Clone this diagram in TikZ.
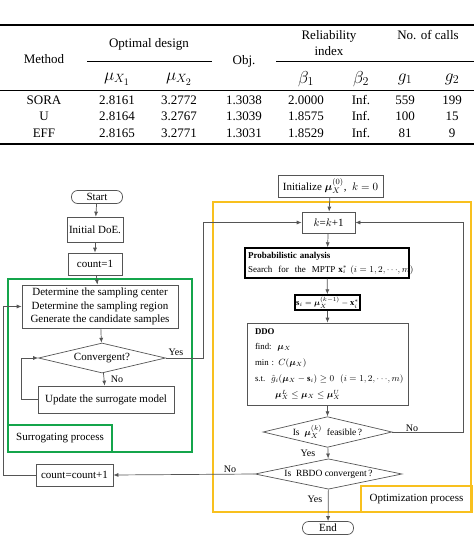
\documentclass[tikz,border=0pt]{standalone}
\usepackage{amsmath, amssymb}
\usepackage{bm}
\usepackage{fontspec}
\setmainfont{Liberation Serif}
\usetikzlibrary{shapes.geometric,arrows.meta,calc,positioning}
\definecolor{linegray}{RGB}{85,85,85}
\definecolor{surgreen}{RGB}{20,165,75}
\definecolor{optgold}{RGB}{248,192,30}
\tikzset{
  tab/.style={font=\fontsize{13}{16}\selectfont, inner sep=0pt},
  tabmath/.style={font=\fontsize{17.28}{19}\selectfont, inner sep=0pt},
  box/.style={draw=linegray, line width=0.7pt, inner sep=2pt, fill=white},
  boldbox/.style={draw=black, line width=1.4pt, inner sep=2pt, fill=white},
  term/.style={draw=linegray, line width=0.7pt, rounded corners=6pt, minimum width=51pt, minimum height=13pt, inner sep=0pt},
  dec/.style={draw=linegray, line width=0.7pt, diamond, aspect=4, inner sep=0pt, font=\fontsize{9.5}{11}\selectfont},
  arr/.style={-{Latex[length=5pt,width=4pt]}, draw=linegray, line width=0.7pt},
  lbl/.style={font=\fontsize{10}{12}\selectfont, inner sep=0pt},
  greenframe/.style={draw=surgreen, line width=1.6pt},
  goldframe/.style={draw=optgold, line width=1.6pt}
}
\begin{document}
\begin{tikzpicture}[x=1pt,y=-1pt, every node/.style={font=\fontsize{11}{13.5}\selectfont}]
  \useasboundingbox (0,0) rectangle (474,535);
  % Table rules
  \draw[line width=1.6pt] (0,25) -- (474,25);
  \draw[line width=0.8pt] (87,61) -- (212,61);
  \draw[line width=0.8pt] (276,61) -- (474,61);
  \draw[line width=0.9pt] (0,90.5) -- (474,90.5);
  \draw[line width=1.8pt] (0,144) -- (474,144);
  % Table head
  \node[tab] (hmeth) at (44,59) {Method};
  \node[tab] (hopt) at (149,44) {Optimal design};
  \node[tab] (hobj) at (244,61) {Obj.};
  \node[tab, align=center] (hrel) at (329,43.5) {Reliability\\index};
  \node[tab] (hcall) at (428,35) {No. of calls};
  \node[tabmath] (hmu1) at (117,79) {$\mu_{X_1}$};
  \node[tabmath] (hmu2) at (179,79) {$\mu_{X_2}$};
  \node[tabmath] (hb1) at (306,79) {$\beta_1$};
  \node[tabmath] (hb2) at (361,79) {$\beta_2$};
  \node[tabmath] (hg1) at (405,79) {$g_1$};
  \node[tabmath] (hg2) at (452,79) {$g_2$};
  % Table rows
  \foreach \meth/\ma/\mb/\ob/\ba/\bb/\ga/\gb/\y in {SORA/2.8161/3.2772/1.3038/2.0000/Inf./559/199/100,
      U/2.8164/3.2767/1.3039/1.8575/Inf./100/15/116.5,
      EFF/2.8165/3.2771/1.3031/1.8529/Inf./81/9/133}{
    \node[tab] (r\meth-m) at (44,\y) {\meth};
    \node[tab] (r\meth-a) at (117,\y) {\ma};
    \node[tab] (r\meth-b) at (179,\y) {\mb};
    \node[tab] (r\meth-o) at (244,\y) {\ob};
    \node[tab] (r\meth-ba) at (306,\y) {\ba};
    \node[tab] (r\meth-bb) at (361,\y) {\bb};
    \node[tab] (r\meth-ga) at (405,\y) {\ga};
    \node[tab] (r\meth-gb) at (452,\y) {\gb};
  }
  % Process frames
  \draw[greenframe] (8,279) rectangle (192,452);
  \draw[goldframe] (213,202) rectangle (471,512);
  \node[draw=surgreen, line width=1.6pt, minimum width=104pt, minimum height=27pt, inner sep=0pt] (surlab) at (60,438.5) {Surrogating process};
  \node[draw=optgold, line width=1.6pt, minimum width=111pt, minimum height=26pt, inner sep=0pt] (optlab) at (416.5,499) {Optimization process};
  % Surrogating side
  \node[term] (start) at (97,197) {Start};
  \node[box, minimum width=54pt, minimum height=25pt] (doe) at (95,229.5) {Initial DoE.};
  \node[box, minimum width=54pt, minimum height=22pt] (cnt) at (95,264) {count=1};
  \node[box, minimum width=156pt, minimum height=43pt, align=center] (det) at (100,306.5) {Determine the sampling center\\Determine the sampling region\\Generate the candidate samples};
  \node[dec, minimum width=127pt, minimum height=30pt] (conv) at (102,358) {\fontsize{11}{13}\selectfont Convergent?};
  \node[box, minimum width=136pt, minimum height=27pt] (upd) at (106,399.5) {Update the surrogate model};
  \node[box, minimum width=77pt, minimum height=22pt] (cnt2) at (74.5,475) {count=count+1};
  % Optimization side
  \node[box, minimum width=105pt, minimum height=22pt] (init) at (330.5,186) {Initialize $\bm{\mu}_X^{(0)}$,\ \ $k=0$};
  \node[box, minimum width=53pt, minimum height=21pt] (kk) at (328.5,222.5) {$k$=$k$+1};
  \node[boldbox, minimum height=30pt, text width=158pt, inner xsep=3pt, align=left, font=\fontsize{9}{14}\selectfont] (prob) at (327,263) {\textbf{Probabilistic analysis}\\\mbox{Search\ \ for\ \ the\ \ MPTP $\mathbf{x}_i^*$ $(i=1,2,\cdots\!,m)$}};
  \node[boldbox, minimum width=61pt, minimum height=15pt, inner sep=1pt, font=\fontsize{8.5}{10}\selectfont] (sbox) at (327.5,302.5) {$\mathbf{s}_i=\bm{\mu}_X^{(k-1)}-\mathbf{x}_i^*$};
  \node[box, minimum height=82pt, text width=145pt, inner xsep=8pt, align=left, font=\fontsize{8.8}{15.7}\selectfont] (ddo) at (327.5,364) {\textbf{DDO}\\find:\ \ $\bm{\mu}_X$\\min : $C(\bm{\mu}_X)$\\\mbox{s.t.\ \ $\hat{g}_i(\bm{\mu}_X-\mathbf{s}_i)\ge 0$\ \ $(i=1,2,\cdots\!,m)$}\\[1pt]\hspace{2.3em}$\bm{\mu}_X^L\le\bm{\mu}_X\le\bm{\mu}_X^U$};
  \node[dec, minimum width=129pt, minimum height=30pt] (feas) at (327.5,432) {Is\ \ $\bm{\mu}_X^{(k)}$\ \ feasible\,?};
  \node[dec, minimum width=147pt, minimum height=30pt] (rbdo) at (328.5,474) {Is\ \ RBDO convergent\,?};
  \node[term] (endn) at (328,528) {End};
  % Turning points
  \coordinate (yesup) at (203,222.5);
  \coordinate (noright) at (463,222.5);
  \coordinate (backleft) at (3,475);
  % Connectors
  \draw[arr] (start) -- (doe);
  \draw[arr] (doe) -- (cnt);
  \draw[arr] (cnt) -- (det);
  \draw[arr] (det) -- (conv);
  \draw[arr] (conv) -- (upd);
  \draw[arr] (upd.west) -- ++(-16,0) |- (conv.west);
  \draw[arr] (conv.east) -| (yesup) -- (kk.west);
  \draw[arr] (cnt2.west) -- (backleft) |- (det.west);
  \draw[arr] (init) -- (kk);
  \draw[arr] (kk) -- (prob);
  \draw[arr] (prob) -- (sbox);
  \draw[arr] (sbox) -- (ddo);
  \draw[arr] (ddo) -- (feas);
  \draw[arr] (feas) -- (rbdo);
  \draw[arr] (rbdo) -- (endn);
  \draw[arr] (feas.east) -| (noright) -- (kk.east);
  \draw[arr] (rbdo.west) -- (cnt2.east);
  % Branch labels
  \node[lbl] (yes1) at (176,352) {Yes};
  \node[lbl] (no1) at (117,379) {No};
  \node[lbl] (no2) at (412,428) {No};
  \node[lbl] (yes2) at (308,453) {Yes};
  \node[lbl] (no3) at (230,469) {No};
  \node[lbl] (yes3) at (315,499) {Yes};
\end{tikzpicture}
\end{document}
